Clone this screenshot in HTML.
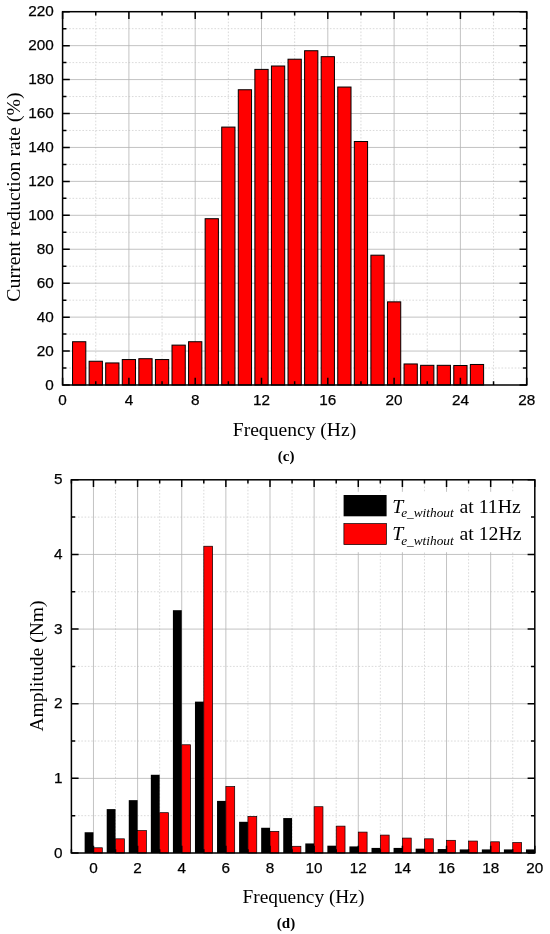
<!DOCTYPE html><html><head><meta charset="utf-8"><title>Figure</title>
<style>html,body{margin:0;padding:0;background:#fff}svg{display:block}.tk{font-family:"Liberation Sans",Arial,sans-serif;font-size:15.3px;fill:#000;stroke:#000;stroke-width:0.25px}.lb{font-family:"Liberation Serif","Times New Roman",serif;font-size:19.6px;fill:#000}.cap{font-family:"Liberation Serif","Times New Roman",serif;font-size:15px;font-weight:bold;fill:#000}</style></head><body>
<svg width="550" height="934" viewBox="0 0 550 934">
<rect width="550" height="934" fill="#fff"/>
<g><line x1="95.75" y1="11.7" x2="95.75" y2="385" stroke="#d0d0d0" stroke-width="0.8" stroke-dasharray="1.6 1.7"/><line x1="162.05" y1="11.7" x2="162.05" y2="385" stroke="#d0d0d0" stroke-width="0.8" stroke-dasharray="1.6 1.7"/><line x1="228.35" y1="11.7" x2="228.35" y2="385" stroke="#d0d0d0" stroke-width="0.8" stroke-dasharray="1.6 1.7"/><line x1="294.65" y1="11.7" x2="294.65" y2="385" stroke="#d0d0d0" stroke-width="0.8" stroke-dasharray="1.6 1.7"/><line x1="360.95" y1="11.7" x2="360.95" y2="385" stroke="#d0d0d0" stroke-width="0.8" stroke-dasharray="1.6 1.7"/><line x1="427.25" y1="11.7" x2="427.25" y2="385" stroke="#d0d0d0" stroke-width="0.8" stroke-dasharray="1.6 1.7"/><line x1="493.55" y1="11.7" x2="493.55" y2="385" stroke="#d0d0d0" stroke-width="0.8" stroke-dasharray="1.6 1.7"/><line x1="62.6" y1="368.03" x2="526.7" y2="368.03" stroke="#d0d0d0" stroke-width="0.8" stroke-dasharray="1.6 1.7"/><line x1="62.6" y1="334.1" x2="526.7" y2="334.1" stroke="#d0d0d0" stroke-width="0.8" stroke-dasharray="1.6 1.7"/><line x1="62.6" y1="300.16" x2="526.7" y2="300.16" stroke="#d0d0d0" stroke-width="0.8" stroke-dasharray="1.6 1.7"/><line x1="62.6" y1="266.22" x2="526.7" y2="266.22" stroke="#d0d0d0" stroke-width="0.8" stroke-dasharray="1.6 1.7"/><line x1="62.6" y1="232.29" x2="526.7" y2="232.29" stroke="#d0d0d0" stroke-width="0.8" stroke-dasharray="1.6 1.7"/><line x1="62.6" y1="198.35" x2="526.7" y2="198.35" stroke="#d0d0d0" stroke-width="0.8" stroke-dasharray="1.6 1.7"/><line x1="62.6" y1="164.41" x2="526.7" y2="164.41" stroke="#d0d0d0" stroke-width="0.8" stroke-dasharray="1.6 1.7"/><line x1="62.6" y1="130.48" x2="526.7" y2="130.48" stroke="#d0d0d0" stroke-width="0.8" stroke-dasharray="1.6 1.7"/><line x1="62.6" y1="96.54" x2="526.7" y2="96.54" stroke="#d0d0d0" stroke-width="0.8" stroke-dasharray="1.6 1.7"/><line x1="62.6" y1="62.6" x2="526.7" y2="62.6" stroke="#d0d0d0" stroke-width="0.8" stroke-dasharray="1.6 1.7"/><line x1="62.6" y1="28.67" x2="526.7" y2="28.67" stroke="#d0d0d0" stroke-width="0.8" stroke-dasharray="1.6 1.7"/><line x1="128.9" y1="11.7" x2="128.9" y2="385" stroke="#b4b4b4" stroke-width="0.8"/><line x1="195.2" y1="11.7" x2="195.2" y2="385" stroke="#b4b4b4" stroke-width="0.8"/><line x1="261.5" y1="11.7" x2="261.5" y2="385" stroke="#b4b4b4" stroke-width="0.8"/><line x1="327.8" y1="11.7" x2="327.8" y2="385" stroke="#b4b4b4" stroke-width="0.8"/><line x1="394.1" y1="11.7" x2="394.1" y2="385" stroke="#b4b4b4" stroke-width="0.8"/><line x1="460.4" y1="11.7" x2="460.4" y2="385" stroke="#b4b4b4" stroke-width="0.8"/><line x1="62.6" y1="351.06" x2="526.7" y2="351.06" stroke="#b4b4b4" stroke-width="0.8"/><line x1="62.6" y1="317.13" x2="526.7" y2="317.13" stroke="#b4b4b4" stroke-width="0.8"/><line x1="62.6" y1="283.19" x2="526.7" y2="283.19" stroke="#b4b4b4" stroke-width="0.8"/><line x1="62.6" y1="249.25" x2="526.7" y2="249.25" stroke="#b4b4b4" stroke-width="0.8"/><line x1="62.6" y1="215.32" x2="526.7" y2="215.32" stroke="#b4b4b4" stroke-width="0.8"/><line x1="62.6" y1="181.38" x2="526.7" y2="181.38" stroke="#b4b4b4" stroke-width="0.8"/><line x1="62.6" y1="147.45" x2="526.7" y2="147.45" stroke="#b4b4b4" stroke-width="0.8"/><line x1="62.6" y1="113.51" x2="526.7" y2="113.51" stroke="#b4b4b4" stroke-width="0.8"/><line x1="62.6" y1="79.57" x2="526.7" y2="79.57" stroke="#b4b4b4" stroke-width="0.8"/><line x1="62.6" y1="45.64" x2="526.7" y2="45.64" stroke="#b4b4b4" stroke-width="0.8"/></g>
<g fill="#ff0000" stroke="#000" stroke-width="1"><rect x="72.55" y="341.73" width="13.26" height="43.27"/><rect x="89.12" y="361.24" width="13.26" height="23.76"/><rect x="105.69" y="362.94" width="13.26" height="22.06"/><rect x="122.27" y="359.55" width="13.26" height="25.45"/><rect x="138.84" y="358.7" width="13.26" height="26.3"/><rect x="155.42" y="359.55" width="13.26" height="25.45"/><rect x="172" y="345.12" width="13.26" height="39.88"/><rect x="188.57" y="341.73" width="13.26" height="43.27"/><rect x="205.14" y="218.71" width="13.26" height="166.29"/><rect x="221.72" y="127.08" width="13.26" height="257.92"/><rect x="238.29" y="89.75" width="13.26" height="295.25"/><rect x="254.87" y="69.39" width="13.26" height="315.61"/><rect x="271.44" y="66" width="13.26" height="319"/><rect x="288.02" y="59.21" width="13.26" height="325.79"/><rect x="304.6" y="50.73" width="13.26" height="334.27"/><rect x="321.17" y="56.67" width="13.26" height="328.33"/><rect x="337.75" y="87.04" width="13.26" height="297.96"/><rect x="354.32" y="141.51" width="13.26" height="243.49"/><rect x="370.9" y="255.19" width="13.26" height="129.81"/><rect x="387.47" y="301.86" width="13.26" height="83.14"/><rect x="404.05" y="363.96" width="13.26" height="21.04"/><rect x="420.62" y="365.32" width="13.26" height="19.68"/><rect x="437.19" y="365.32" width="13.26" height="19.68"/><rect x="453.77" y="365.49" width="13.26" height="19.51"/><rect x="470.35" y="364.47" width="13.26" height="20.53"/></g>
<path d="M62.6 385v-7.2 M62.6 11.7v7.2 M128.9 385v-7.2 M128.9 11.7v7.2 M195.2 385v-7.2 M195.2 11.7v7.2 M261.5 385v-7.2 M261.5 11.7v7.2 M327.8 385v-7.2 M327.8 11.7v7.2 M394.1 385v-7.2 M394.1 11.7v7.2 M460.4 385v-7.2 M460.4 11.7v7.2 M526.7 385v-7.2 M526.7 11.7v7.2 M95.75 385v-3.8 M95.75 11.7v3.8 M162.05 385v-3.8 M162.05 11.7v3.8 M228.35 385v-3.8 M228.35 11.7v3.8 M294.65 385v-3.8 M294.65 11.7v3.8 M360.95 385v-3.8 M360.95 11.7v3.8 M427.25 385v-3.8 M427.25 11.7v3.8 M493.55 385v-3.8 M493.55 11.7v3.8 M62.6 385h7.2 M526.7 385h-7.2 M62.6 351.06h7.2 M526.7 351.06h-7.2 M62.6 317.13h7.2 M526.7 317.13h-7.2 M62.6 283.19h7.2 M526.7 283.19h-7.2 M62.6 249.25h7.2 M526.7 249.25h-7.2 M62.6 215.32h7.2 M526.7 215.32h-7.2 M62.6 181.38h7.2 M526.7 181.38h-7.2 M62.6 147.45h7.2 M526.7 147.45h-7.2 M62.6 113.51h7.2 M526.7 113.51h-7.2 M62.6 79.57h7.2 M526.7 79.57h-7.2 M62.6 45.64h7.2 M526.7 45.64h-7.2 M62.6 11.7h7.2 M526.7 11.7h-7.2 M62.6 368.03h3.8 M526.7 368.03h-3.8 M62.6 334.1h3.8 M526.7 334.1h-3.8 M62.6 300.16h3.8 M526.7 300.16h-3.8 M62.6 266.22h3.8 M526.7 266.22h-3.8 M62.6 232.29h3.8 M526.7 232.29h-3.8 M62.6 198.35h3.8 M526.7 198.35h-3.8 M62.6 164.41h3.8 M526.7 164.41h-3.8 M62.6 130.48h3.8 M526.7 130.48h-3.8 M62.6 96.54h3.8 M526.7 96.54h-3.8 M62.6 62.6h3.8 M526.7 62.6h-3.8 M62.6 28.67h3.8 M526.7 28.67h-3.8" stroke="#000" stroke-width="1.5" fill="none"/>
<rect x="62.6" y="11.7" width="464.1" height="373.3" fill="none" stroke="#000" stroke-width="1.5"/>
<text class="tk" x="62.6" y="405.1" text-anchor="middle">0</text>
<text class="tk" x="128.9" y="405.1" text-anchor="middle">4</text>
<text class="tk" x="195.2" y="405.1" text-anchor="middle">8</text>
<text class="tk" x="261.5" y="405.1" text-anchor="middle">12</text>
<text class="tk" x="327.8" y="405.1" text-anchor="middle">16</text>
<text class="tk" x="394.1" y="405.1" text-anchor="middle">20</text>
<text class="tk" x="460.4" y="405.1" text-anchor="middle">24</text>
<text class="tk" x="526.7" y="405.1" text-anchor="middle">28</text>
<text class="tk" x="53.8" y="389.6" text-anchor="end">0</text>
<text class="tk" x="53.8" y="355.66" text-anchor="end">20</text>
<text class="tk" x="53.8" y="321.73" text-anchor="end">40</text>
<text class="tk" x="53.8" y="287.79" text-anchor="end">60</text>
<text class="tk" x="53.8" y="253.85" text-anchor="end">80</text>
<text class="tk" x="53.8" y="219.92" text-anchor="end">100</text>
<text class="tk" x="53.8" y="185.98" text-anchor="end">120</text>
<text class="tk" x="53.8" y="152.05" text-anchor="end">140</text>
<text class="tk" x="53.8" y="118.11" text-anchor="end">160</text>
<text class="tk" x="53.8" y="84.17" text-anchor="end">180</text>
<text class="tk" x="53.8" y="50.24" text-anchor="end">200</text>
<text class="tk" x="53.8" y="16.3" text-anchor="end">220</text>
<text class="lb" x="294.5" y="435.5" text-anchor="middle">Frequency (Hz)</text>
<text class="lb" style="font-size:19.8px" transform="translate(20.2 197.0) rotate(-90)" text-anchor="middle">Current reduction rate (%)</text>
<text class="cap" x="286.2" y="461.3" text-anchor="middle">(c)</text>
<g><line x1="115.53" y1="479.8" x2="115.53" y2="853" stroke="#d0d0d0" stroke-width="0.8" stroke-dasharray="1.6 1.7"/><line x1="159.67" y1="479.8" x2="159.67" y2="853" stroke="#d0d0d0" stroke-width="0.8" stroke-dasharray="1.6 1.7"/><line x1="203.8" y1="479.8" x2="203.8" y2="853" stroke="#d0d0d0" stroke-width="0.8" stroke-dasharray="1.6 1.7"/><line x1="247.93" y1="479.8" x2="247.93" y2="853" stroke="#d0d0d0" stroke-width="0.8" stroke-dasharray="1.6 1.7"/><line x1="292.07" y1="479.8" x2="292.07" y2="853" stroke="#d0d0d0" stroke-width="0.8" stroke-dasharray="1.6 1.7"/><line x1="336.2" y1="479.8" x2="336.2" y2="853" stroke="#d0d0d0" stroke-width="0.8" stroke-dasharray="1.6 1.7"/><line x1="380.33" y1="479.8" x2="380.33" y2="853" stroke="#d0d0d0" stroke-width="0.8" stroke-dasharray="1.6 1.7"/><line x1="424.47" y1="479.8" x2="424.47" y2="853" stroke="#d0d0d0" stroke-width="0.8" stroke-dasharray="1.6 1.7"/><line x1="468.6" y1="479.8" x2="468.6" y2="853" stroke="#d0d0d0" stroke-width="0.8" stroke-dasharray="1.6 1.7"/><line x1="512.73" y1="479.8" x2="512.73" y2="853" stroke="#d0d0d0" stroke-width="0.8" stroke-dasharray="1.6 1.7"/><line x1="71.4" y1="815.68" x2="534.8" y2="815.68" stroke="#d0d0d0" stroke-width="0.8" stroke-dasharray="1.6 1.7"/><line x1="71.4" y1="741.04" x2="534.8" y2="741.04" stroke="#d0d0d0" stroke-width="0.8" stroke-dasharray="1.6 1.7"/><line x1="71.4" y1="666.4" x2="534.8" y2="666.4" stroke="#d0d0d0" stroke-width="0.8" stroke-dasharray="1.6 1.7"/><line x1="71.4" y1="591.76" x2="534.8" y2="591.76" stroke="#d0d0d0" stroke-width="0.8" stroke-dasharray="1.6 1.7"/><line x1="71.4" y1="517.12" x2="534.8" y2="517.12" stroke="#d0d0d0" stroke-width="0.8" stroke-dasharray="1.6 1.7"/><line x1="93.47" y1="479.8" x2="93.47" y2="853" stroke="#b4b4b4" stroke-width="0.8"/><line x1="137.6" y1="479.8" x2="137.6" y2="853" stroke="#b4b4b4" stroke-width="0.8"/><line x1="181.73" y1="479.8" x2="181.73" y2="853" stroke="#b4b4b4" stroke-width="0.8"/><line x1="225.87" y1="479.8" x2="225.87" y2="853" stroke="#b4b4b4" stroke-width="0.8"/><line x1="270" y1="479.8" x2="270" y2="853" stroke="#b4b4b4" stroke-width="0.8"/><line x1="314.13" y1="479.8" x2="314.13" y2="853" stroke="#b4b4b4" stroke-width="0.8"/><line x1="358.27" y1="479.8" x2="358.27" y2="853" stroke="#b4b4b4" stroke-width="0.8"/><line x1="402.4" y1="479.8" x2="402.4" y2="853" stroke="#b4b4b4" stroke-width="0.8"/><line x1="446.53" y1="479.8" x2="446.53" y2="853" stroke="#b4b4b4" stroke-width="0.8"/><line x1="490.67" y1="479.8" x2="490.67" y2="853" stroke="#b4b4b4" stroke-width="0.8"/><line x1="71.4" y1="778.36" x2="534.8" y2="778.36" stroke="#b4b4b4" stroke-width="0.8"/><line x1="71.4" y1="703.72" x2="534.8" y2="703.72" stroke="#b4b4b4" stroke-width="0.8"/><line x1="71.4" y1="629.08" x2="534.8" y2="629.08" stroke="#b4b4b4" stroke-width="0.8"/><line x1="71.4" y1="554.44" x2="534.8" y2="554.44" stroke="#b4b4b4" stroke-width="0.8"/></g>
<g fill="#000"><rect x="84.64" y="832.25" width="8.83" height="20.75"/><rect x="106.71" y="809.11" width="8.83" height="43.89"/><rect x="128.77" y="800.15" width="8.83" height="52.85"/><rect x="150.84" y="774.78" width="8.83" height="78.22"/><rect x="172.91" y="610.2" width="8.83" height="242.8"/><rect x="194.97" y="701.63" width="8.83" height="151.37"/><rect x="217.04" y="800.9" width="8.83" height="52.1"/><rect x="239.11" y="821.8" width="8.83" height="31.2"/><rect x="261.17" y="827.77" width="8.83" height="25.23"/><rect x="283.24" y="818.07" width="8.83" height="34.93"/><rect x="305.31" y="843.45" width="8.83" height="9.55"/><rect x="327.37" y="845.69" width="8.83" height="7.31"/><rect x="349.44" y="846.43" width="8.83" height="6.57"/><rect x="371.51" y="847.92" width="8.83" height="5.08"/><rect x="393.57" y="847.92" width="8.83" height="5.08"/><rect x="415.64" y="848.67" width="8.83" height="4.33"/><rect x="437.71" y="849.04" width="8.83" height="3.96"/><rect x="459.77" y="849.42" width="8.83" height="3.58"/><rect x="481.84" y="849.42" width="8.83" height="3.58"/><rect x="503.91" y="849.42" width="8.83" height="3.58"/><rect x="525.97" y="849.42" width="8.83" height="3.58"/></g>
<g fill="#ff0000" stroke="#000" stroke-width="0.7"><rect x="93.47" y="847.78" width="8.83" height="5.22"/><rect x="115.53" y="838.82" width="8.83" height="14.18"/><rect x="137.6" y="830.61" width="8.83" height="22.39"/><rect x="159.67" y="812.69" width="8.83" height="40.31"/><rect x="181.73" y="744.77" width="8.83" height="108.23"/><rect x="203.8" y="546.23" width="8.83" height="306.77"/><rect x="225.87" y="786.57" width="8.83" height="66.43"/><rect x="247.93" y="816.43" width="8.83" height="36.57"/><rect x="270" y="831.35" width="8.83" height="21.65"/><rect x="292.07" y="846.28" width="8.83" height="6.72"/><rect x="314.13" y="806.72" width="8.83" height="46.28"/><rect x="336.2" y="826.13" width="8.83" height="26.87"/><rect x="358.27" y="832.1" width="8.83" height="20.9"/><rect x="380.33" y="835.09" width="8.83" height="17.91"/><rect x="402.4" y="838.07" width="8.83" height="14.93"/><rect x="424.47" y="838.82" width="8.83" height="14.18"/><rect x="446.53" y="840.31" width="8.83" height="12.69"/><rect x="468.6" y="841.06" width="8.83" height="11.94"/><rect x="490.67" y="841.8" width="8.83" height="11.2"/><rect x="512.73" y="842.55" width="8.83" height="10.45"/></g>
<rect x="340" y="491.8" width="191" height="60.4" fill="#fff"/>
<rect x="343.6" y="495" width="43" height="21.3" fill="#000"/>
<rect x="343.9" y="523.6" width="42.5" height="21" fill="#ff0000" stroke="#000" stroke-width="0.7"/>
<text class="lb" style="font-size:19.8px" x="392.2" y="512.6"><tspan font-style="italic">T</tspan><tspan font-style="italic" style="font-size:13.3px" dx="-2" dy="4.4">e_without</tspan><tspan dx="0.8" dy="-4.4"> at 11Hz</tspan></text>
<text class="lb" style="font-size:19.8px" x="392.2" y="540.3"><tspan font-style="italic">T</tspan><tspan font-style="italic" style="font-size:13.3px" dx="-2" dy="4.4">e_wtihout</tspan><tspan dx="0.8" dy="-4.4"> at 12Hz</tspan></text>
<path d="M93.47 853v-7.2 M93.47 479.8v7.2 M137.6 853v-7.2 M137.6 479.8v7.2 M181.73 853v-7.2 M181.73 479.8v7.2 M225.87 853v-7.2 M225.87 479.8v7.2 M270 853v-7.2 M270 479.8v7.2 M314.13 853v-7.2 M314.13 479.8v7.2 M358.27 853v-7.2 M358.27 479.8v7.2 M402.4 853v-7.2 M402.4 479.8v7.2 M446.53 853v-7.2 M446.53 479.8v7.2 M490.67 853v-7.2 M490.67 479.8v7.2 M534.8 853v-7.2 M534.8 479.8v7.2 M71.4 853v-3.8 M71.4 479.8v3.8 M115.53 853v-3.8 M115.53 479.8v3.8 M159.67 853v-3.8 M159.67 479.8v3.8 M203.8 853v-3.8 M203.8 479.8v3.8 M247.93 853v-3.8 M247.93 479.8v3.8 M292.07 853v-3.8 M292.07 479.8v3.8 M336.2 853v-3.8 M336.2 479.8v3.8 M380.33 853v-3.8 M380.33 479.8v3.8 M424.47 853v-3.8 M424.47 479.8v3.8 M468.6 853v-3.8 M468.6 479.8v3.8 M512.73 853v-3.8 M512.73 479.8v3.8 M71.4 853h7.2 M534.8 853h-7.2 M71.4 778.36h7.2 M534.8 778.36h-7.2 M71.4 703.72h7.2 M534.8 703.72h-7.2 M71.4 629.08h7.2 M534.8 629.08h-7.2 M71.4 554.44h7.2 M534.8 554.44h-7.2 M71.4 479.8h7.2 M534.8 479.8h-7.2 M71.4 815.68h3.8 M534.8 815.68h-3.8 M71.4 741.04h3.8 M534.8 741.04h-3.8 M71.4 666.4h3.8 M534.8 666.4h-3.8 M71.4 591.76h3.8 M534.8 591.76h-3.8 M71.4 517.12h3.8 M534.8 517.12h-3.8" stroke="#000" stroke-width="1.5" fill="none"/>
<rect x="71.4" y="479.8" width="463.4" height="373.2" fill="none" stroke="#000" stroke-width="1.5"/>
<text class="tk" x="93.47" y="873.1" text-anchor="middle">0</text>
<text class="tk" x="137.6" y="873.1" text-anchor="middle">2</text>
<text class="tk" x="181.73" y="873.1" text-anchor="middle">4</text>
<text class="tk" x="225.87" y="873.1" text-anchor="middle">6</text>
<text class="tk" x="270" y="873.1" text-anchor="middle">8</text>
<text class="tk" x="314.13" y="873.1" text-anchor="middle">10</text>
<text class="tk" x="358.27" y="873.1" text-anchor="middle">12</text>
<text class="tk" x="402.4" y="873.1" text-anchor="middle">14</text>
<text class="tk" x="446.53" y="873.1" text-anchor="middle">16</text>
<text class="tk" x="490.67" y="873.1" text-anchor="middle">18</text>
<text class="tk" x="534.8" y="873.1" text-anchor="middle">20</text>
<text class="tk" x="62.6" y="857.6" text-anchor="end">0</text>
<text class="tk" x="62.6" y="782.96" text-anchor="end">1</text>
<text class="tk" x="62.6" y="708.32" text-anchor="end">2</text>
<text class="tk" x="62.6" y="633.68" text-anchor="end">3</text>
<text class="tk" x="62.6" y="559.04" text-anchor="end">4</text>
<text class="tk" x="62.6" y="484.4" text-anchor="end">5</text>
<text class="lb" style="font-size:19.35px" x="303.4" y="903" text-anchor="middle">Frequency (Hz)</text>
<text class="lb" transform="translate(43.2 666) rotate(-90)" text-anchor="middle">Amplitude (Nm)</text>
<text class="cap" x="286" y="928.3" text-anchor="middle">(d)</text>
</svg></body></html>
